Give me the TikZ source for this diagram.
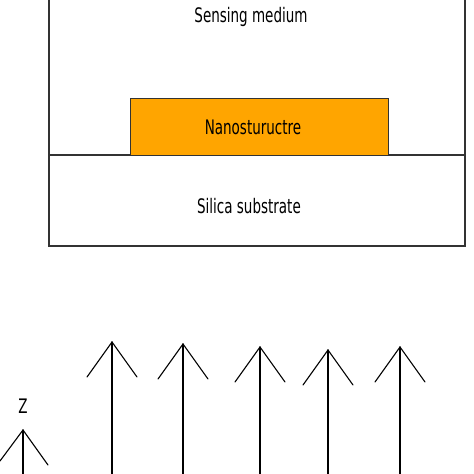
\documentclass[tikz,border=0pt]{standalone}
\usepackage{fontspec}
\setmainfont{DejaVu Sans Condensed}
\usetikzlibrary{calc}
\begin{document}
\begin{tikzpicture}[x=1pt,y=-1pt,
  edge/.style={draw=black!80,line width=1.1pt},
  lbl/.style={font=\fontsize{20}{22}\selectfont,inner sep=0pt,xscale=0.75},
  field/.style={draw=black,line width=1.1pt,line cap=round}]
\useasboundingbox (0,0) rectangle (474,474);
\clip (0,0) rectangle (474,474);
% layers
\draw[edge] (49,-5) -- (49,246) -- (465,246) -- (465,-5);
\draw[edge] (49,155) -- (465,155);
\node[draw=black!80,line width=0.8pt,fill={rgb,255:red,255;green,165;blue,0},minimum width=258pt,minimum height=57pt,anchor=north west,inner sep=0pt] (nano) at (130,98) {};
\node[lbl] (tn) at (253,127) {Nanostuructre};
\node[lbl] (sm) at (251,17) {Sensing medium};
\node[lbl] (ss) at (249,206) {Silica substrate};
% field arrows
\foreach \i/\x/\y in {1/112/342,2/183/344,3/260/347,4/328/350,5/400/347}{
  \coordinate (t\i) at (\x,\y);
  \coordinate (b\i) at (\x,480);
  \draw[field] (b\i) -- (t\i);
  \draw[field] ($(t\i)+(-25,35)$) -- (t\i) -- ($(t\i)+(25,35)$);
}
% z axis
\coordinate (zt) at (23,430);
\coordinate (zb) at (23,480);
\draw[field] (zb) -- (zt);
\draw[field] (0,461) -- (zt) -- (48,465);
\node[lbl] (z) at (23,406) {Z};
\end{tikzpicture}
\end{document}
